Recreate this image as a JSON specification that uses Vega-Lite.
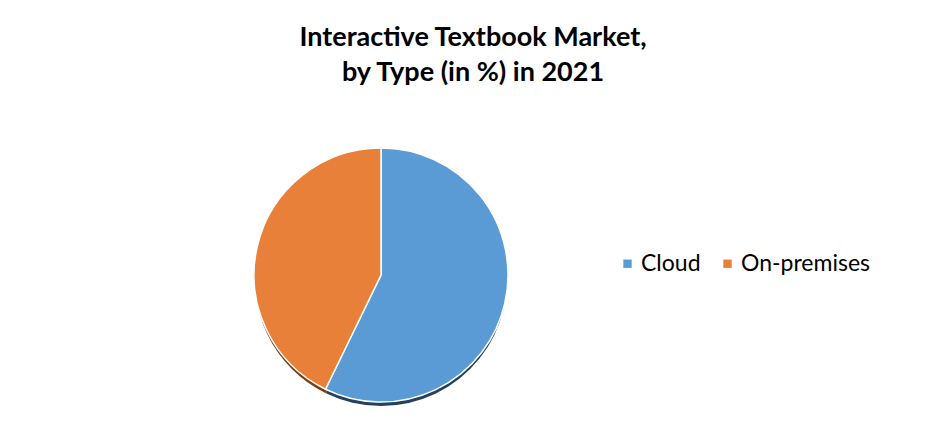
{
  "$schema": "https://vega.github.io/schema/vega-lite/v6.json",
  "autosize": {"type": "none"},
  "width": 762,
  "height": 250,
  "padding": {"left": 0, "top": 150, "right": 178, "bottom": 47},
  "background": "white",
  "title": {
    "text": ["Interactive Textbook Market,", "by Type (in %) in 2021"],
    "font": "Lato",
    "fontSize": 27,
    "fontWeight": "bold",
    "color": "#000000",
    "lineHeight": 35,
    "anchor": "middle",
    "dx": 92,
    "offset": 58
  },
  "data": {
    "values": [
      {"type": "Cloud", "share": 57.2, "order": 1},
      {"type": "On-premises", "share": 42.8, "order": 2}
    ]
  },
  "config": {"view": {"stroke": null}},
  "encoding": {
    "theta": {"field": "share", "type": "quantitative", "stack": true},
    "order": {"field": "order", "type": "quantitative"}
  },
  "layer": [
    {
      "mark": {"type": "arc", "outerRadius": 126, "yOffset": 5},
      "encoding": {
        "fill": {
          "condition": {"test": "datum.type === 'Cloud'", "value": "#24405c"},
          "value": "#7a3c10"
        }
      }
    },
    {
      "mark": {"type": "arc", "outerRadius": 127, "stroke": "white", "strokeWidth": 1.5},
      "encoding": {
        "color": {
          "field": "type",
          "type": "nominal",
          "sort": ["Cloud", "On-premises"],
          "scale": {"domain": ["Cloud", "On-premises"], "range": ["#5B9BD5", "#E9803A"]},
          "legend": {
            "title": null,
            "orient": "none",
            "direction": "horizontal",
            "legendX": 616,
            "legendY": 102,
            "symbolType": "square",
            "symbolSize": 70,
            "symbolStrokeWidth": 0,
            "labelFont": "Lato",
            "labelFontSize": 23,
            "labelColor": "#000000",
            "labelOffset": 2,
            "columnPadding": 15
          }
        }
      }
    }
  ]
}
